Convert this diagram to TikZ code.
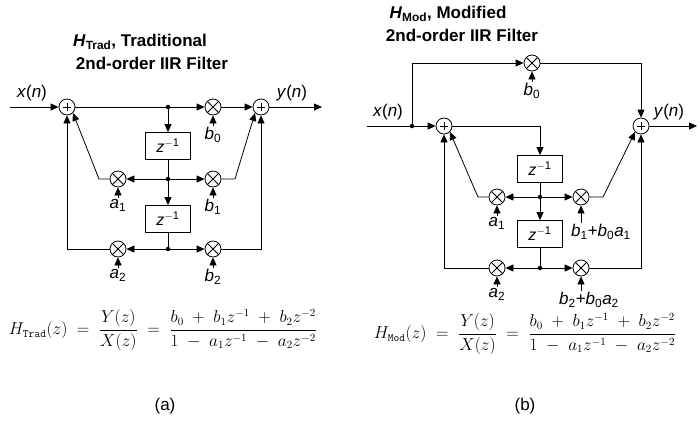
\documentclass[tikz,border=0pt]{standalone}
\usepackage{amsmath}
\usepackage{fontspec}
\setmainfont{Liberation Sans}
\usetikzlibrary{arrows.meta,positioning}
\tikzset{
  mult/.style={circle, draw, thick, minimum size=16pt, inner sep=0pt,
    path picture={\draw[thick] (path picture bounding box.north west) -- (path picture bounding box.south east)
      (path picture bounding box.north east) -- (path picture bounding box.south west);}},
  adder/.style={circle, draw, thick, minimum size=16pt, inner sep=0pt,
    path picture={\draw[thick] ([yshift=-4pt]path picture bounding box.north) -- ([yshift=4pt]path picture bounding box.south)
      ([xshift=4pt]path picture bounding box.west) -- ([xshift=-4pt]path picture bounding box.east);}},
  delay/.style={draw, thick, minimum width=45pt, minimum height=27pt, inner sep=0pt, font=\fontsize{16}{18}\selectfont},
  jn/.style={circle, fill, inner sep=0pt, minimum size=4.5pt},
  flow/.style={thick, -{Triangle[length=8pt,width=7pt]}},
  lbl/.style={font=\fontsize{17}{19}\selectfont},
  ttl/.style={font=\bfseries\fontsize{17}{19}\selectfont},
  eqn/.style={font=\fontsize{16}{18}\selectfont},
}
\newcommand{\iv}[1]{\textit{#1}}
\begin{document}
\begin{tikzpicture}[x=1pt,y=-1pt]
  \useasboundingbox (0,0) rectangle (700,421);
  % ---- (a) traditional
  \node[ttl] at (140,42) {\iv{H}\textsubscript{Trad}, Traditional};
  \node[ttl] at (152,63) {2nd-order IIR Filter};
  \coordinate (xa) at (10,107);
  \node[adder] (sa1) at (67,107) {};
  \node[jn] (ta) at (168,107) {};
  \node[mult] (mb0a) at (213,107) {};
  \node[adder] (sa2) at (261,107) {};
  \coordinate (ya) at (322,107);
  \node[delay] (za1) at (168,146) {\iv{z}\textsuperscript{$-$1}};
  \node[jn] (ma) at (168,179) {};
  \node[mult] (ma1a) at (118,179) {};
  \node[mult] (mb1a) at (213,179) {};
  \node[delay] (za2) at (168,219) {\iv{z}\textsuperscript{$-$1}};
  \node[jn] (ba) at (168,249) {};
  \node[mult] (ma2a) at (118,249) {};
  \node[mult] (mb2a) at (213,249) {};
  \draw[flow] (xa) -- (sa1);
  \draw[thick] (sa1) -- (ta);
  \draw[flow] (ta) -- (mb0a);
  \draw[flow] (mb0a) -- (sa2);
  \draw[flow] (sa2) -- (ya);
  \draw[flow] (ta) -- (za1);
  \draw[thick] (za1) -- (ma);
  \draw[flow] (ma) -- (ma1a);
  \draw[flow] (ma) -- (mb1a);
  \draw[flow] (ma) -- (za2);
  \draw[thick] (za2) -- (ba);
  \draw[flow] (ba) -- (ma2a);
  \draw[flow] (ba) -- (mb2a);
  \draw[flow] (ma1a.west) -- (99,179) -- (sa1.south east);
  \draw[flow] (ma2a.west) -- (67,249) -- (sa1.south);
  \draw[flow] (mb1a.east) -- (235,179) -- (sa2.south west);
  \draw[flow] (mb2a.east) -- (261,249) -- (sa2.south);
  \foreach \m/\t in {mb0a/\iv{b}\textsubscript{0}, ma1a/\iv{a}\textsubscript{1}, mb1a/\iv{b}\textsubscript{1},
      ma2a/\iv{a}\textsubscript{2}, mb2a/\iv{b}\textsubscript{2}} {
    \node[lbl, below=11pt of \m.south, anchor=north, inner sep=1pt] (\m-l) {\t};
    \draw[flow] (\m-l.north) -- (\m.south);
  }
  \node[lbl] at (32,93) {\iv{x}(\iv{n})};
  \node[lbl] at (292,93) {\iv{y}(\iv{n})};
  \node[eqn] (eqa) at (163,330)
    {$H_{\mathtt{Trad}}(z) \;=\; \dfrac{Y(z)}{X(z)} \;=\; \dfrac{b_0 \;+\; b_1z^{-1} \;+\; b_2z^{-2}}{1 \;-\; a_1z^{-1} \;-\; a_2z^{-2}}$};
  \node[lbl] at (165,406) {(a)};
  % ---- (b) modified
  \node[ttl] at (448,14) {\iv{H}\textsubscript{Mod}, Modified};
  \node[ttl] at (462,35) {2nd-order IIR Filter};
  \coordinate (xb) at (367,126);
  \node[jn] (tb) at (412,126) {};
  \node[adder] (sb1) at (444,126) {};
  \node[mult] (mb0b) at (532,63) {};
  \node[adder] (sb2) at (641,126) {};
  \coordinate (yb) at (697,126);
  \node[delay] (zb1) at (540,169) {\iv{z}\textsuperscript{$-$1}};
  \node[jn] (mb) at (540,197) {};
  \node[mult] (ma1b) at (497,197) {};
  \node[mult] (mb1b) at (581,197) {};
  \node[delay] (zb2) at (540,234) {\iv{z}\textsuperscript{$-$1}};
  \node[jn] (bb) at (540,268) {};
  \node[mult] (ma2b) at (497,268) {};
  \node[mult] (mb2b) at (581,268) {};
  \draw[thick] (xb) -- (tb);
  \draw[flow] (tb) -- (sb1);
  \draw[flow] (tb) |- (mb0b);
  \draw[flow] (mb0b) -| (sb2);
  \draw[flow] (sb2) -- (yb);
  \draw[flow] (sb1) -| (zb1);
  \draw[thick] (zb1) -- (mb);
  \draw[flow] (mb) -- (ma1b);
  \draw[flow] (mb) -- (mb1b);
  \draw[flow] (mb) -- (zb2);
  \draw[thick] (zb2) -- (bb);
  \draw[flow] (bb) -- (ma2b);
  \draw[flow] (bb) -- (mb2b);
  \draw[flow] (ma1b.west) -- (478,197) -- (sb1.south east);
  \draw[flow] (ma2b.west) -- (444,268) -- (sb1.south);
  \draw[flow] (mb1b.east) -- (603,197) -- (sb2.south west);
  \draw[flow] (mb2b.east) -- (641,268) -- (sb2.south);
  \foreach \m/\t in {mb0b/\iv{b}\textsubscript{0}, ma1b/\iv{a}\textsubscript{1},
      ma2b/\iv{a}\textsubscript{2}} {
    \node[lbl, below=11pt of \m.south, anchor=north, inner sep=1pt] (\m-l) {\t};
    \draw[flow] (\m-l.north) -- (\m.south);
  }
  \node[lbl, inner sep=1pt] (mb1b-l) at (601,232)
    {\iv{b}\textsubscript{1}+\iv{b}\textsubscript{0}\iv{a}\textsubscript{1}};
  \node[lbl, inner sep=1pt] (mb2b-l) at (589,300)
    {\iv{b}\textsubscript{2}+\iv{b}\textsubscript{0}\iv{a}\textsubscript{2}};
  \draw[flow] (mb1b |- mb1b-l.north) -- (mb1b.south);
  \draw[flow] (mb2b |- mb2b-l.north) -- (mb2b.south);
  \node[lbl] at (388,112) {\iv{x}(\iv{n})};
  \node[lbl] at (669,112) {\iv{y}(\iv{n})};
  \node[eqn] (eqb) at (525,334)
    {$H_{\mathtt{Mod}}(z) \;=\; \dfrac{Y(z)}{X(z)} \;=\; \dfrac{b_0 \;+\; b_1z^{-1} \;+\; b_2z^{-2}}{1 \;-\; a_1z^{-1} \;-\; a_2z^{-2}}$};
  \node[lbl] at (525,406) {(b)};
\end{tikzpicture}
\end{document}
